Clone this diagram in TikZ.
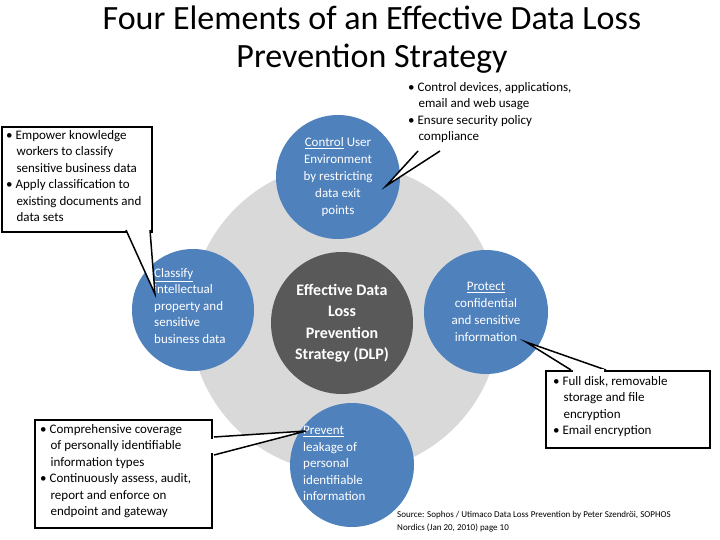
\documentclass[tikz,border=0pt]{standalone}
\usepackage{fontspec}
\setmainfont{Carlito}
\begin{document}
\begin{tikzpicture}[x=1pt,y=-1pt,
  blue/.style={circle,fill=blueC,text=white,align=center,font=\fontsize{13}{17}\selectfont},
  box/.style={fill=white,draw=black,line width=2pt},
  wedge/.style={fill=white,draw=black,line width=1.5pt,line join=miter},
  btxt/.style={align=left,anchor=north west,font=\fontsize{13}{16.5}\selectfont,inner sep=0pt}]
\definecolor{blueC}{HTML}{4F81BD}
\definecolor{greyC}{HTML}{D9D9D9}
\definecolor{darkC}{HTML}{595959}
\useasboundingbox (0,0) rectangle (720,540);
\node[font=\fontsize{34}{38}\selectfont,align=center] (title) at (372,40) {Four Elements of an Effective Data Loss\\Prevention Strategy};
\node[circle,fill=greyC,minimum size=310pt] (big) at (345,318) {};
\node[blue,minimum size=124pt] (top) at (338,177) {\underline{Control} User\\Environment\\by restricting\\data exit\\points};
\node[blue,minimum size=122pt] (left) at (193,310) {};
\node[btxt,text=white] at (154,268) {\underline{Classify}\\intellectual\\property and\\sensitive\\business data};
\node[circle,fill=darkC,minimum size=142pt,text=white,align=center,font=\bfseries\fontsize{16}{21.5}\selectfont] (mid) at (342,323) {Effective Data\\Loss\\Prevention\\Strategy (DLP)};
\node[blue,minimum size=124pt] (right) at (486,312) {\underline{Protect}\\confidential\\and sensitive\\information};
\node[blue,minimum size=124pt] (bot) at (352,465) {};
\node[btxt,text=white] at (303,426) {\underline{Prevent}\\leakage of\\personal\\identifiable\\information};
% top-left callout
\draw[box] (2,127) rectangle (152,232);
\coordinate (t1) at (155,294);
\draw[wedge] (126,230) -- (t1) -- (150,230);
\fill[white] (128,229) rectangle (149,231);
\node[btxt] (c1) at (6,130) {• Empower knowledge\\\hspace*{0.8em}workers to classify\\\hspace*{0.8em}sensitive business data\\• Apply classification to\\\hspace*{0.8em}existing documents and\\\hspace*{0.8em}data sets};
% top-right callout
\fill[white] (404,82) rectangle (618,150);
\coordinate (t2) at (386,186);
\draw[wedge] (418,151) -- (t2) -- (440,151);
\node[btxt] (c2) at (408,82) {• Control devices, applications,\\\hspace*{0.8em}email and web usage\\• Ensure security policy\\\hspace*{0.8em}compliance};
% bottom-right callout
\draw[box] (546,371) rectangle (710,448);
\coordinate (t3) at (526,342);
\draw[wedge] (571,370) -- (t3) -- (606,370);
\fill[white] (573,369) rectangle (604,372);
\node[btxt] (c3) at (553,376) {• Full disk, removable\\\hspace*{0.8em}storage and file\\\hspace*{0.8em}encryption\\• Email encryption};
% bottom-left callout
\draw[box] (35,420) rectangle (212,528);
\coordinate (t4) at (306,431);
\draw[wedge] (214,437) -- (t4) -- (214,455);
\fill[white] (211,439) rectangle (213,453);
\node[btxt] (c4) at (40,424) {• Comprehensive coverage\\\hspace*{0.8em}of personally identifiable\\\hspace*{0.8em}information types\\• Continuously assess, audit,\\\hspace*{0.8em}report and enforce on\\\hspace*{0.8em}endpoint and gateway};
\node[btxt,font=\fontsize{9}{13}\selectfont] (src) at (397,511) {Source: Sophos / Utimaco Data Loss Prevention by Peter Szendröi, SOPHOS\\Nordics (Jan 20, 2010) page 10};
\end{tikzpicture}
\end{document}
